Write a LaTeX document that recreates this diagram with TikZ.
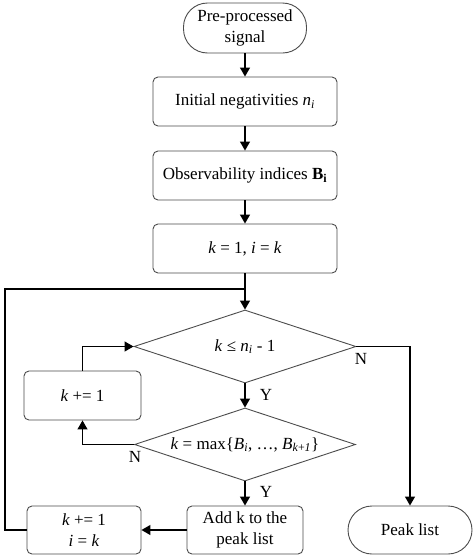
\documentclass[tikz,border=0pt]{standalone}
\usepackage{fontspec}
\setmainfont{Liberation Serif}
\usetikzlibrary{shapes.geometric,arrows.meta}
\begin{document}
\begin{tikzpicture}[x=1pt,y=-1pt,
  every node/.style={font=\fontsize{17}{21}\selectfont},
  box/.style={draw=black!70,line width=0.9pt,rounded corners=5pt,minimum width=184pt,minimum height=49pt,inner sep=2pt,align=center},
  term/.style={draw=black!70,line width=0.9pt,rounded corners=24pt,minimum height=49pt,inner sep=2pt,align=center},
  dec/.style={draw=black!70,line width=0.9pt,diamond,shape aspect=3,minimum width=222pt,minimum height=73pt,inner sep=0pt},
  arr/.style={line width=1.2pt,-{Triangle[length=9pt,width=10pt]}},
  ln/.style={line width=1.2pt},
  lbl/.style={inner sep=0pt}]
\path[use as bounding box,fill=white] (0,0) rectangle (474,560);
\node[term,minimum width=123pt,minimum height=50pt] (start) at (245,28) {Pre-processed\\signal};
\node[box] (init) at (245,101.5) {Initial negativities \textit{n}\textsubscript{\textit{i}}};
\node[box] (obs) at (245,175.5) {Observability indices \textbf{B\textsubscript{i}}};
\node[box] (kinit) at (245,248.5) {\textit{k} = 1, \textit{i} = \textit{k}};
\coordinate (j) at (245,289);
\coordinate (lft) at (5,289);
\node[dec] (d1) at (245,346.5) {\textit{k} ≤ \textit{n}\textsubscript{\textit{i}} - 1};
\node[box,minimum width=117pt] (inc) at (82.5,395.5) {\textit{k} += 1};
\node[dec,minimum width=221pt] (d2) at (245,444.5) {\textit{k} = max\{\textit{B}\textsubscript{\textit{i}}, …, \textit{B}\textsubscript{\textit{k}+\textit{1}}\}};
\node[box,minimum width=116pt,minimum height=48pt] (add) at (245,530) {Add k to the\\peak list};
\node[box,minimum width=114pt,minimum height=48pt] (upd) at (84,530) {\textit{k} += 1\\\textit{i} = \textit{k}};
\node[term,minimum width=124pt,minimum height=48pt] (peak) at (410,530) {Peak list};
\draw[arr] (start) -- (init);
\draw[arr] (init) -- (obs);
\draw[arr] (obs) -- (kinit);
\draw[arr] (kinit) -- (d1);
\draw[arr] (d1.east) -| (peak.north);
\node[lbl] (n1) at (361,359) {N};
\draw[arr] (d1) -- (d2);
\node[lbl] (y1) at (266,395) {Y};
\draw[arr] (d2.west) -| (inc.south);
\node[lbl] (n2) at (135,457) {N};
\draw[arr] (inc.north) |- (d1.west);
\draw[arr] (d2) -- (add);
\node[lbl] (y2) at (266,492) {Y};
\draw[arr] (add) -- (upd);
\draw[ln] (upd.west) -| (lft) -- (j);
\end{tikzpicture}
\end{document}
